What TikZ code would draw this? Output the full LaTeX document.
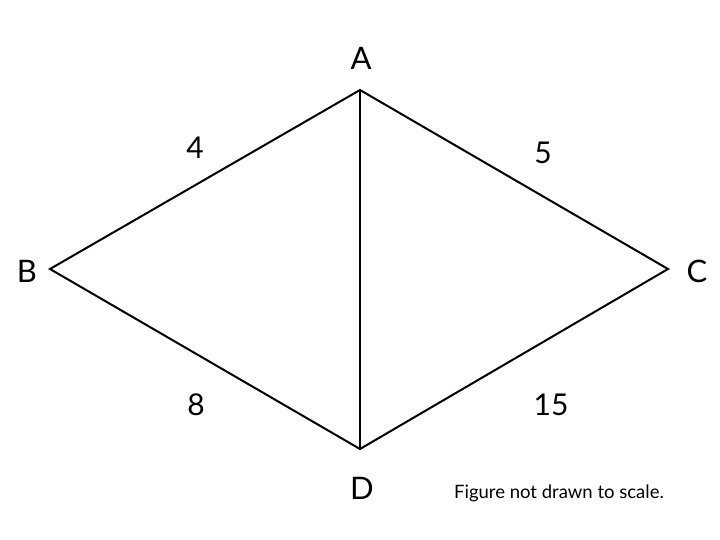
\documentclass[tikz,border=0pt]{standalone}
\usepackage{fontspec}
\setmainfont{Lato}
\begin{document}
\begin{tikzpicture}[x=1pt,y=-1pt,
  edge/.style={line width=2pt,line join=miter},
  vlabel/.style={font=\fontsize{31}{33}\selectfont,inner sep=0pt},
  elabel/.style={font=\fontsize{30}{32}\selectfont,inner sep=0pt}]
\useasboundingbox (0,0) rectangle (720,540);
\coordinate (A) at (360,90);
\coordinate (B) at (50,269);
\coordinate (C) at (668,269);
\coordinate (D) at (360,449);
\draw[edge] (A) -- (B) -- (D) -- (C) -- cycle;
\draw[edge] (A) -- (D);
\node[vlabel] (lA) at (361,58) {A};
\node[vlabel] (lB) at (27,271) {B};
\node[vlabel] (lC) at (697,271) {C};
\node[vlabel] (lD) at (362,488) {D};
\node[elabel] (l4) at (195,148) {4};
\node[elabel] (l5) at (543,153) {5};
\node[elabel] (l8) at (196,405) {8};
\node[elabel] (l15) at (551,405) {15};
\node[font=\fontsize{18.5}{20}\selectfont,inner sep=0pt] (note) at (559,493) {Figure not drawn to scale.};
\end{tikzpicture}
\end{document}
